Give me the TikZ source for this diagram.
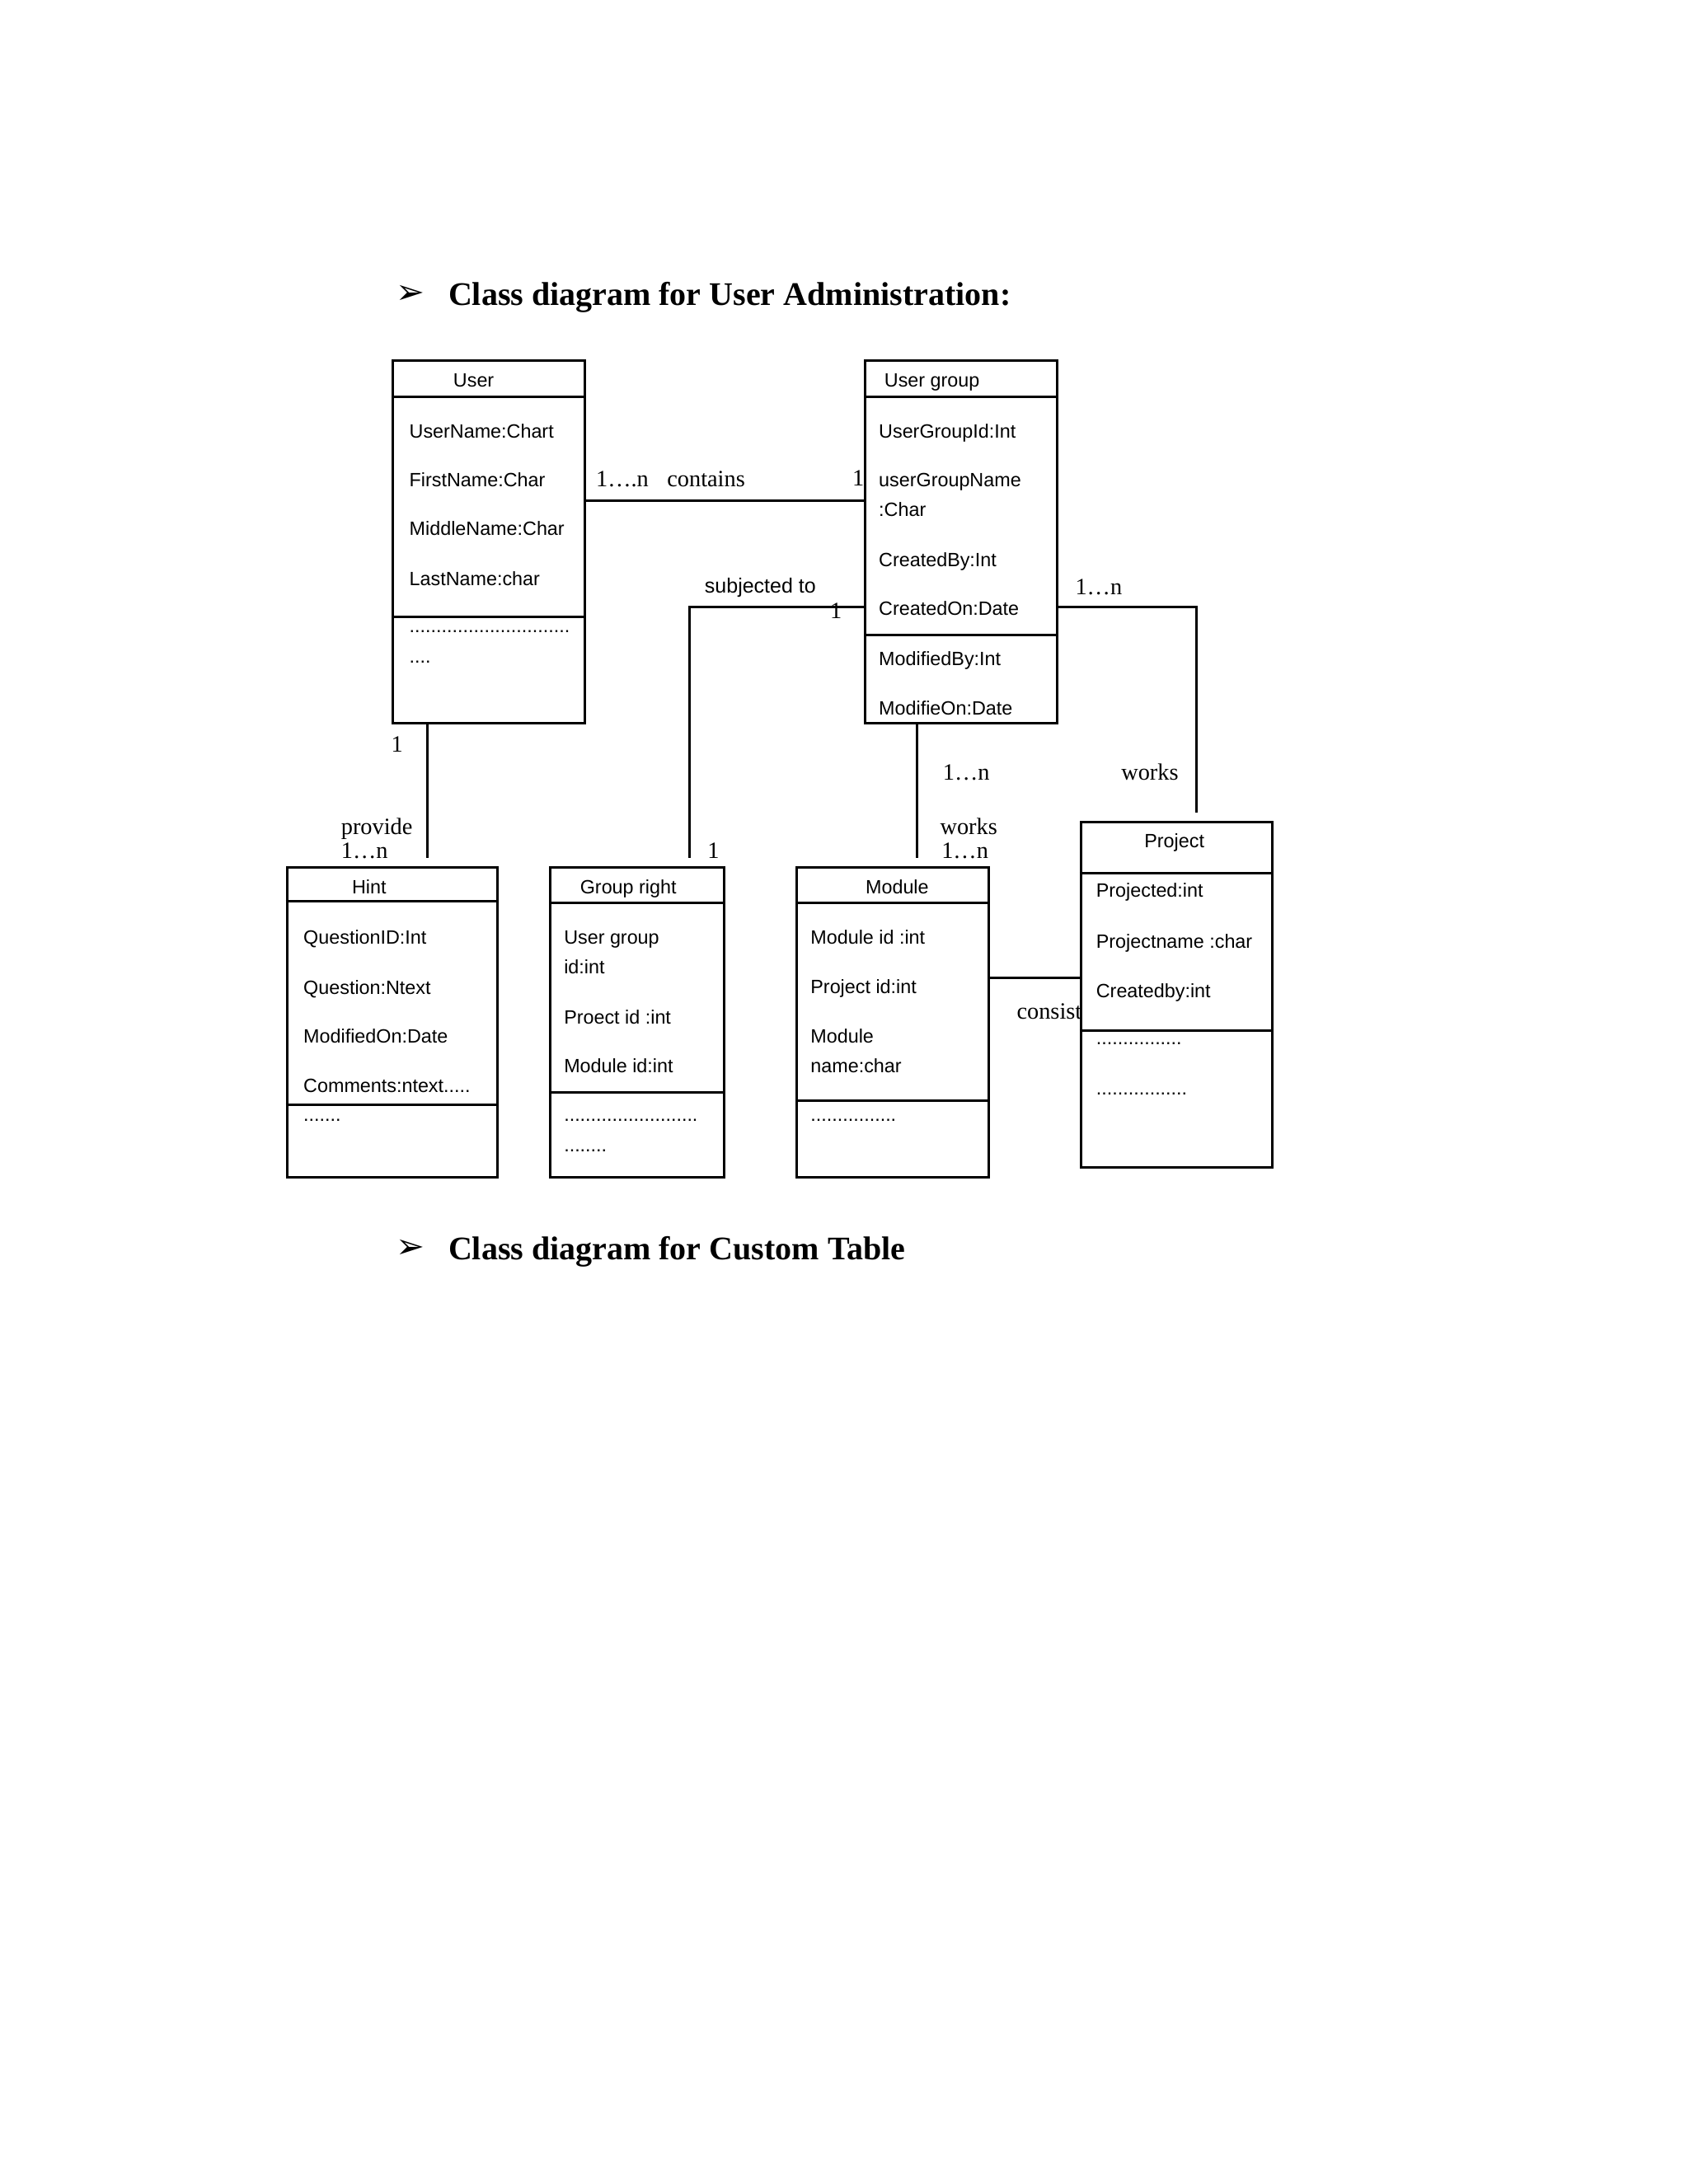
\documentclass[tikz,border=0pt]{standalone}
\usepackage{fontspec}
\setmainfont{Liberation Serif}
\setsansfont{Liberation Sans}
\newfontfamily\dingfont{DejaVu Sans}
\usetikzlibrary{fit}

\begin{document}
\begin{tikzpicture}[
    x=0.505bp, y=-0.505bp,
    line width=0.9pt,
    classbox/.style = {draw, inner sep=0pt, line width=0.9pt},
    head/.style  = {font=\sffamily\fontsize{7}{8}\selectfont, anchor=base, inner sep=0pt},
    attr/.style  = {font=\sffamily\fontsize{7}{8}\selectfont, anchor=base west, inner sep=0pt},
    lbl/.style   = {font=\fontsize{8.5}{10}\selectfont, anchor=base west, inner sep=0pt},
    link/.style  = {line width=0.9pt, shorten >=3bp},
    title/.style = {font=\bfseries\fontsize{12}{14}\selectfont, anchor=base west, inner sep=0pt},
    bullet/.style = {font=\dingfont\fontsize{12.5}{14}\selectfont, inner sep=0pt}
    ]
    \path[fill=white, use as bounding box] (0,0) rectangle (1212,1568);

    % Titles
    \node[bullet] (bul1) at (294.5,211.5) {➢};
    \node[title]  (title1) at (321,219.5) {Class diagram for User Administration:};
    \node[bullet] (bul2) at (294.5,896.5) {➢};
    \node[title]  (title2) at (321,904.5) {Class diagram for Custom Table};

    % Class boxes
    \node[classbox, fit={(282,259) (420,519)}] (user) {};
    \node[classbox, fit={(621,259) (759,519)}] (ugroup) {};
    \node[classbox, fit={(206,623) (357,845)}] (hint) {};
    \node[classbox, fit={(395,623) (520,845)}] (grright) {};
    \node[classbox, fit={(572,623) (710,845)}] (module) {};
    \node[classbox, fit={(776,590) (913,838)}] (project) {};

    % Compartments
    \draw (user.west |- 0,285)    -- (user.east |- 0,285);
    \draw (user.west |- 0,443)    -- (user.east |- 0,443);
    \draw (ugroup.west |- 0,285)  -- (ugroup.east |- 0,285);
    \draw (ugroup.west |- 0,456)  -- (ugroup.east |- 0,456);
    \draw (hint.west |- 0,647)    -- (hint.east |- 0,647);
    \draw (hint.west |- 0,793)    -- (hint.east |- 0,793);
    \draw (grright.west |- 0,648) -- (grright.east |- 0,648);
    \draw (grright.west |- 0,784) -- (grright.east |- 0,784);
    \draw (module.west |- 0,648)  -- (module.east |- 0,648);
    \draw (module.west |- 0,790)  -- (module.east |- 0,790);
    \draw (project.west |- 0,627) -- (project.east |- 0,627);
    \draw (project.west |- 0,740) -- (project.east |- 0,740);

    % User
    \node[head] (user name) at (340,277.5) {User};
    \node[attr] (user a1) at (293,314.5) {UserName:Chart};
    \node[attr] (user a2) at (293,349.5) {FirstName:Char};
    \node[attr] (user a3) at (293,384.5) {MiddleName:Char};
    \node[attr] (user a4) at (293,420.5) {LastName:char};
    \node[attr] (user m1) at (293,454) {..............................};
    \node[attr] (user m2) at (293,476) {....};

    % User group
    \node[head] (ugroup name) at (669,277.5) {User group};
    \node[attr] (ugroup a1) at (630,314.5) {UserGroupId:Int};
    \node[attr] (ugroup a2) at (630,349.5) {userGroupName};
    \node[attr] (ugroup a3) at (630,370.5) {:Char};
    \node[attr] (ugroup a4) at (630,406.5) {CreatedBy:Int};
    \node[attr] (ugroup a5) at (630,441.5) {CreatedOn:Date};
    \node[attr] (ugroup m1) at (630,477.5) {ModifiedBy:Int};
    \node[attr] (ugroup m2) at (630,513) {ModifieOn:Date};

    % Hint
    \node[head] (hint name) at (265,641.5) {Hint};
    \node[attr] (hint a1) at (217,678) {QuestionID:Int};
    \node[attr] (hint a2) at (217,714) {Question:Ntext};
    \node[attr] (hint a3) at (217,749) {ModifiedOn:Date};
    \node[attr] (hint a4) at (217,784) {Comments:ntext.....};
    \node[attr] (hint m1) at (217,805) {.......};

    % Group right
    \node[head] (grright name) at (451,641.5) {Group right};
    \node[attr] (grright a1) at (404,678) {User group};
    \node[attr] (grright a2) at (404,699) {id:int};
    \node[attr] (grright a3) at (404,735) {Proect id :int};
    \node[attr] (grright a4) at (404,770) {Module id:int};
    \node[attr] (grright m1) at (404,805) {.........................};
    \node[attr] (grright m2) at (404,827) {........};

    % Module
    \node[head] (module name) at (644,641.5) {Module};
    \node[attr] (module a1) at (581,678) {Module id :int};
    \node[attr] (module a2) at (581,713) {Project id:int};
    \node[attr] (module a3) at (581,749) {Module};
    \node[attr] (module a4) at (581,770) {name:char};
    \node[attr] (module m1) at (581,805) {................};

    % Project
    \node[head] (project name) at (843,608.5) {Project};
    \node[attr] (project a1) at (786,644) {Projected:int};
    \node[attr] (project a2) at (786,681) {Projectname :char};
    \node[attr] (project a3) at (786,716) {Createdby:int};
    \node[attr] (project m1) at (786,750) {................};
    \node[attr] (project m2) at (786,786) {.................};

    % Associations
    \draw (user.east |- 0,359.5) -- (ugroup.west |- 0,359.5);
    \draw[link] (ugroup.west |- 0,436) -| (grright.north -| 495,0);
    \draw[link] (user.south -| 307,0) -- (hint.north -| 307,0);
    \draw[link] (ugroup.south -| 658,0) -- (module.north -| 658,0);
    \draw[link] (ugroup.east |- 0,436) -| (project.north -| 859,0);
    \draw (module.east |- 0,702) -- (project.west |- 0,702);

    % Multiplicities and roles
    \node[lbl] (contains m1) at (427,349.5) {1….n};
    \node[lbl] (contains)    at (478,349.5) {contains};
    \node[lbl] (contains m2) at (611,349) {1};
    \node[lbl, font=\sffamily\fontsize{7.5}{9}\selectfont] (subj) at (505,425.5) {subjected to};
    \node[lbl] (subj m1) at (595,444) {1};
    \node[lbl] (subj m2) at (507,616.5) {1};
    \node[lbl] (provide m1) at (280,540) {1};
    \node[lbl] (provide)    at (244,599) {provide};
    \node[lbl] (provide m2) at (244,616.5) {1…n};
    \node[lbl] (works1 m1) at (676,560) {1…n};
    \node[lbl] (works1)    at (674,599) {works};
    \node[lbl] (works1 m2) at (675,616.5) {1…n};
    \node[lbl] (works2 m1) at (771,427) {1…n};
    \node[lbl] (works2)    at (804,560) {works};
    \node[lbl] (consist)   at (729,731.5) {consist};
\end{tikzpicture}
\end{document}
